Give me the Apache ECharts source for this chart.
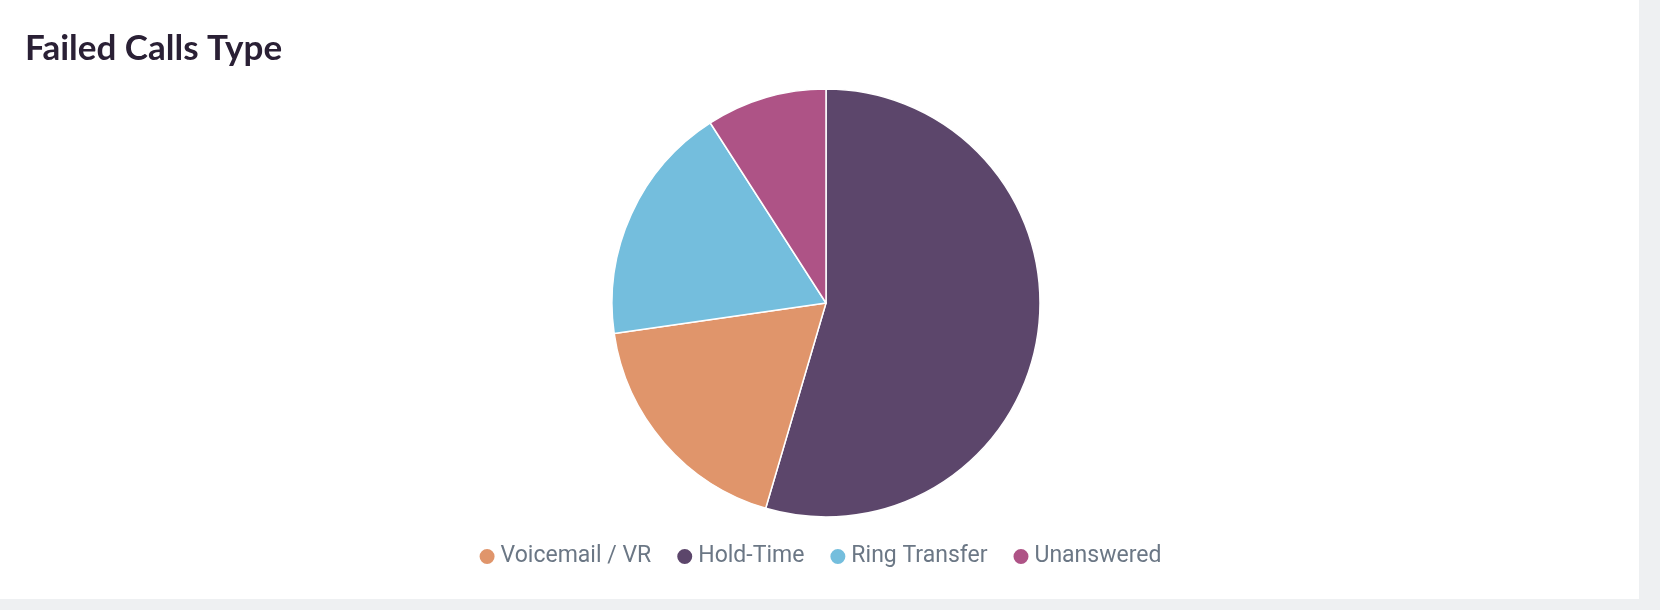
<!DOCTYPE html>
<html>
<head>
<meta charset="utf-8">
<script src="https://cdn.jsdelivr.net/npm/echarts@6/dist/echarts.min.js"></script>
<style>
  html, body { margin: 0; padding: 0; background: #eef0f2; }
  #chart { width: 1639px; height: 599px; background: #ffffff; }
</style>
</head>
<body>
<div id="chart"></div>
<script>
  var categories = ['Voicemail / VR', 'Hold-Time', 'Ring Transfer', 'Unanswered'];
  var values = [20, 60, 20, 10];
  var colors = ['#E0956B', '#5C466B', '#74BEDD', '#AE5386'];
  // slices are drawn clockwise from the top starting with Hold-Time
  var drawOrder = [1, 0, 2, 3];

  var myChart = echarts.init(document.getElementById('chart'));
  var option = {
    animation: false,
    title: {
      text: 'Failed Calls Type',
      left: 20,
      top: 26,
      textStyle: { fontFamily: 'Lato', fontWeight: 'bold', fontSize: 35, color: '#2a2035' }
    },
    legend: {
      bottom: 26,
      left: 'center',
      icon: 'circle',
      itemWidth: 17,
      itemHeight: 17,
      itemGap: 24,
      textStyle: { fontFamily: 'Roboto, sans-serif', fontSize: 23, color: '#6b7785' },
      data: categories
    },
    series: [{
      type: 'pie',
      center: [826, 303],
      radius: [0, 214],
      startAngle: 90,
      label: { show: false },
      labelLine: { show: false },
      itemStyle: { borderColor: '#ffffff', borderWidth: 1.5 },
      data: drawOrder.map(function (i) {
        return { name: categories[i], value: values[i], itemStyle: { color: colors[i] } };
      })
    }]
  };
  myChart.setOption(option);
</script>
</body>
</html>
